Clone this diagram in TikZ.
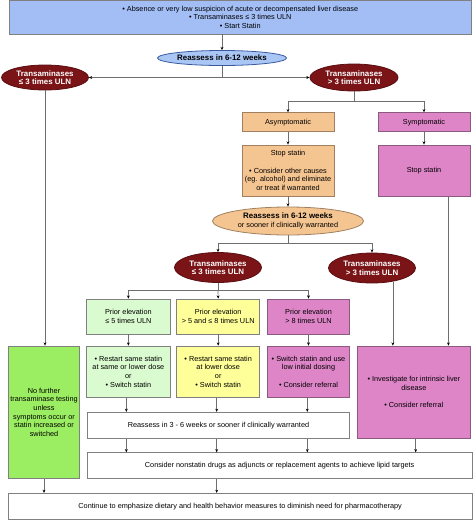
\documentclass[tikz,border=0pt]{standalone}
\usepackage{fontspec}
\setmainfont{Liberation Sans}
\usetikzlibrary{shapes.geometric,arrows.meta}
\definecolor{topblue}{HTML}{A2BEF5}
\definecolor{ellblue}{HTML}{A9C6F5}
\definecolor{ellblueb}{HTML}{3A5AA0}
\definecolor{darkred}{HTML}{7A1417}
\definecolor{darkredb}{HTML}{5A0E10}
\definecolor{tan}{HTML}{F5C591}
\definecolor{tanb}{HTML}{A08060}
\definecolor{pinkf}{HTML}{DE85C8}
\definecolor{pinkb}{HTML}{8A5A80}
\definecolor{lgreen}{HTML}{DAFACF}
\definecolor{lyellow}{HTML}{FFFF99}
\definecolor{bgreen}{HTML}{9BEE62}
\definecolor{boxb}{HTML}{808080}
\definecolor{connc}{HTML}{6E6E6E}
\begin{document}
\begin{tikzpicture}[x=1pt,y=-1pt,
  font=\fontsize{7.3}{8.6}\selectfont,
  box/.style={rectangle,draw=boxb,line width=0.8pt,inner sep=1pt,align=center},
  oval/.style={ellipse,draw,line width=0.8pt,inner sep=0pt,align=center,font=\fontsize{7.9}{8.4}\selectfont\bfseries},
  redoval/.style={oval,fill=darkred,draw=darkredb,text=white},
  conn/.style={draw=connc,line width=0.7pt},
  arr/.style={conn,-{Stealth[length=3.2pt,width=2.8pt,color=black]}}
]
\useasboundingbox (0,0) rectangle (474,520);
% top
\node[box,fill=topblue,draw=boxb,minimum width=461.5pt,minimum height=33.5pt] (top) at (240.25,17.25)
  {• Absence or very low suspicion of acute or decompensated liver disease\\• Transaminases ≤ 3 times ULN\\• Start Statin};
\node[oval,fill=ellblue,draw=ellblueb,minimum width=129pt,minimum height=15pt] (e1) at (222,58) {Reassess in 6-12 weeks};
\node[redoval,minimum width=87pt,minimum height=25pt] (A) at (45,77.5) {Transaminases\\≤ 3 times ULN};
\node[redoval,minimum width=88pt,minimum height=27pt] (B) at (354,77.5) {Transaminases\\> 3 times ULN};
% branch
\node[box,fill=tan,draw=tanb,minimum width=92pt,minimum height=19pt] (asym) at (288,122.2) {Asymptomatic};
\node[box,fill=pinkf,draw=pinkb,minimum width=92pt,minimum height=19pt] (sym) at (424,122.2) {Symptomatic};
\node[box,fill=tan,draw=tanb,minimum width=92pt,minimum height=51pt] (sa) at (288,170.5)
  {Stop statin\\[8.6pt]• Consider other causes\\(eg. alcohol) and eliminate\\or treat if warranted};
\node[box,fill=pinkf,draw=pinkb,minimum width=92pt,minimum height=51pt] (ss) at (424,170.5) {Stop statin};
\node[oval,fill=tan,draw=tanb,minimum width=151pt,minimum height=28pt] (C) at (288,221)
  {Reassess in 6-12 weeks\\{\fontsize{7.3}{8.4}\selectfont\mdseries or sooner if clinically warranted}};
\node[redoval,minimum width=87pt,minimum height=30pt] (D) at (218,267.5) {Transaminases\\≤ 3 times ULN};
\node[redoval,minimum width=87pt,minimum height=30pt] (E) at (372,268) {Transaminases\\> 3 times ULN};
% prior elevation
\node[box,fill=lgreen,minimum width=83.3pt,minimum height=35pt] (P1) at (128.35,316.5) {Prior elevation\\≤ 5 times ULN};
\node[box,fill=lyellow,minimum width=83pt,minimum height=35pt] (P2) at (218.2,316.5) {Prior elevation\\> 5 and ≤ 8 times ULN};
\node[box,fill=pinkf,draw=pinkb,minimum width=82.4pt,minimum height=35pt] (P3) at (308.5,316.5) {Prior elevation\\> 8 times ULN};
\node[box,fill=lgreen,minimum width=83.3pt,minimum height=51.3pt] (R1) at (128.35,371.65)
  {• Restart same statin\\at same or lower dose\\or\\• Switch statin};
\node[box,fill=lyellow,minimum width=83pt,minimum height=51.3pt] (R2) at (218.2,371.65)
  {• Restart same statin\\at lower dose\\or\\• Switch statin};
\node[box,fill=pinkf,draw=pinkb,minimum width=82.4pt,minimum height=51.3pt] (R3) at (308.5,371.65)
  {• Switch statin and use\\low initial dosing\\[8.6pt]• Consider referral};
\node[box,fill=bgreen,minimum width=71.4pt,minimum height=132.3pt] (G) at (44,412.15)
  {No further\\transaminase testing\\unless\\symptoms occur or\\statin increased or\\switched};
\node[box,fill=pinkf,draw=pinkb,minimum width=112.3pt,minimum height=92.3pt] (K) at (413.85,392.15)
  {• Investigate for intrinsic liver\\disease\\[8.6pt]• Consider referral};
\node[box,fill=white,minimum width=262.4pt,minimum height=26pt] (H) at (218.5,425.3)
  {Reassess in 3 - 6 weeks or sooner if clinically warranted};
\node[box,fill=white,minimum width=384.7pt,minimum height=25.6pt] (I) at (279.65,465.5)
  {Consider nonstatin drugs as adjuncts or replacement agents to achieve lipid targets};
\node[box,fill=white,minimum width=463.7pt,minimum height=26pt] (J) at (240.15,506.3)
  {Continue to emphasize dietary and health behavior measures to diminish need for pharmacotherapy};
% connectors
\draw[arr] (top.south -| e1.north) -- (e1.north);
\coordinate (j1) at (222,77.5);
\draw[conn] (e1.south) -- (j1);
\draw[arr] (j1) -- (A.east);
\draw[arr] (j1) -- (B.west);
\draw[arr] (A.south) -- (A.south |- G.north);
\coordinate (j2) at (354,101);
\draw[conn] (B.south) -- (j2);
\draw[arr] (j2) -| (asym.north);
\draw[arr] (j2) -| (sym.north);
\draw[arr] (asym.south) -- (sa.north);
\draw[arr] (sym.south) -- (ss.north);
\draw[arr] (sa.south) -- (C.north);
\coordinate (j3) at (288,243.3);
\draw[conn] (C.south) -- (j3);
\draw[arr] (j3) -| (D.north);
\draw[arr] (j3) -| (E.north);
\coordinate (j4) at (218,290);
\draw[conn] (D.south) -- (j4);
\draw[arr] (j4) -| (P1.north);
\draw[arr] (j4) -- (P2.north);
\draw[arr] (j4) -| (P3.north);
\draw[arr] (P1.south) -- (R1.north);
\draw[arr] (P2.south) -- (R2.north);
\draw[arr] (P3.south) -- (R3.north);
\draw[arr] (E.-33.6) -- (E.-33.6 |- K.north);
\draw[arr] ([xshift=-22pt]ss.south east) -- ([xshift=-22pt]K.north east);
\draw[arr] ([xshift=-2pt]R1.south) -- ([xshift=-2pt]R1.south |- H.north);
\draw[arr] ([xshift=-1.5pt]R2.south) -- ([xshift=-1.5pt]R2.south |- H.north);
\draw[arr] ([xshift=-1.2pt]R3.south) -- ([xshift=-1.2pt]R3.south |- H.north);
\draw[arr] ([xshift=-2pt]R1.south |- H.south) -- ([xshift=-2pt]R1.south |- I.north);
\draw[arr] ([xshift=-1.5pt]R2.south |- H.south) -- ([xshift=-1.5pt]R2.south |- I.north);
\draw[arr] ([xshift=-1.2pt]R3.south |- H.south) -- ([xshift=-1.2pt]R3.south |- I.north);
\draw[arr] ([xshift=1.85pt]K.south) -- ([xshift=1.85pt]K.south |- I.north);
\draw[arr] (G.south) -- (G.south |- J.north);
\draw[arr] ([xshift=-1.5pt]R2.south |- I.south) -- ([xshift=-1.5pt]R2.south |- J.north);
\end{tikzpicture}
\end{document}
